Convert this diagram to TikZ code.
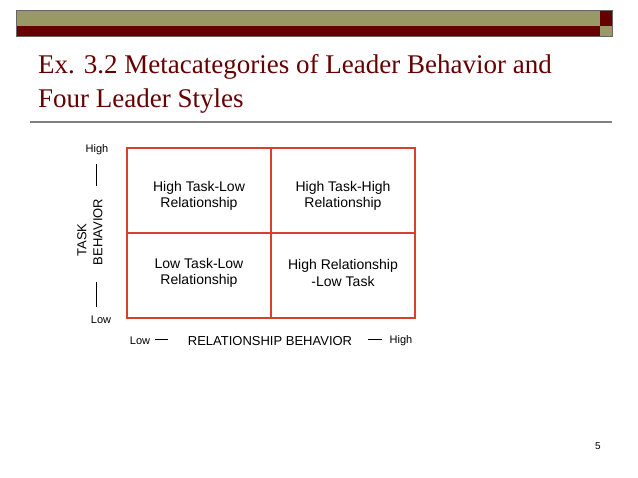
\documentclass[tikz,border=0pt]{standalone}
\usepackage{fontspec}
\setmainfont{Liberation Sans}
\newfontfamily\titlefont{Liberation Serif}
\begin{document}
\begin{tikzpicture}[x=1pt,y=-1pt,
  cell/.style={align=center,font=\fontsize{14}{16.5}\selectfont},
  lab/.style={font=\fontsize{11}{13}\selectfont},
  axis/.style={line width=0.8pt}]
\definecolor{olive}{RGB}{153,153,102}
\definecolor{maroon}{RGB}{102,0,0}
\definecolor{gridred}{RGB}{214,64,44}
\useasboundingbox (0,0) rectangle (638,478);
\fill[olive] (16,10) rectangle (600,26);
\fill[maroon] (16,26) rectangle (600,36);
\fill[maroon] (600,10) rectangle (612,26);
\fill[olive] (600,26) rectangle (612,36);
\draw[black!60!white,line width=0.5pt] (16,10) rectangle (612,36);
\node[anchor=base west,text=maroon,font=\titlefont\fontsize{27}{30}\selectfont,inner sep=0] (t1) at (38,74) {Ex. 3.2 Metacategories of Leader Behavior and};
\node[anchor=base west,text=maroon,font=\titlefont\fontsize{27}{30}\selectfont,inner sep=0] (t2) at (38,108) {Four Leader Styles};
\draw[gray,line width=1.2pt] (30,122) -- (612,122);
\draw[gridred,line width=2.5pt] (127,148) rectangle (415,318);
\draw[gridred,line width=2.5pt] (271,148) -- (271,318);
\draw[gridred,line width=2.5pt] (127,233) -- (415,233);
\node[cell] (c1) at (199,196) {High Task-Low\\Relationship};
\node[cell] (c2) at (343,196) {High Task-High\\Relationship};
\node[cell] (c3) at (199,273) {Low Task-Low\\Relationship};
\node[cell] (c4) at (343,273) {High Relationship\\-Low Task};
\node[lab] (hi) at (97,150) {High};
\node[lab] (lo) at (101,320) {Low};
\draw[axis] (96,164) -- (96,186);
\draw[axis] (96,282) -- (96,307);
\node[lab,rotate=90,font=\fontsize{13}{15}\selectfont] (tk) at (82,240) {TASK};
\node[lab,rotate=90,font=\fontsize{13}{15}\selectfont] (bh) at (98,232) {BEHAVIOR};
\node[lab] (blo) at (140,341) {Low};
\draw[axis] (155,339) -- (168,339);
\node[font=\fontsize{13}{15}\selectfont] (rb) at (270,341) {RELATIONSHIP BEHAVIOR};
\draw[axis] (368,339) -- (382,339);
\node[lab] (bhi) at (401,341) {High};
\node[font=\fontsize{10}{12}\selectfont] (pg) at (598,446) {5};
\end{tikzpicture}
\end{document}
